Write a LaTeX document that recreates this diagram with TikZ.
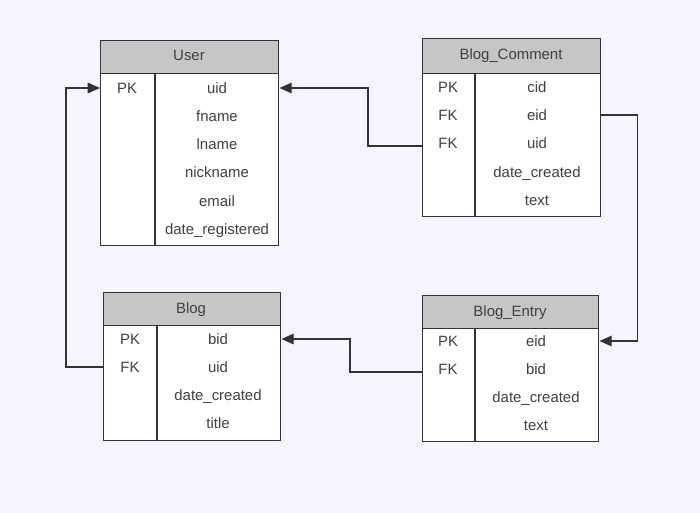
\documentclass[tikz,border=0pt]{standalone}
\usepackage{fontspec}
\setmainfont{Liberation Sans}
\usetikzlibrary{arrows.meta}
\tikzstyle{hdr} = [rectangle, draw=black!80, thick, fill=gray!45, inner sep=0]
\tikzstyle{body} = [rectangle, draw=black!80, thick, fill=white, inner sep=0]
\tikzstyle{cell} = [inner sep=0, text=black!75, text height=1.55ex, text depth=0.45ex, font=\fontsize{8.5}{10}\selectfont]
\tikzstyle{link} = [thick, black!80, -{Triangle[length=7pt,width=6pt]}]

% one table: name, x1, x2, divider, header top, header bottom, body bottom
\newcommand{\ertable}[7]{
	\node[hdr, minimum width={(#3-#2)*0.02cm}, minimum height={(#6-#5)*0.02cm}, anchor=north west] (#1-h) at (#2,#5) {};
	\node[body, minimum width={(#3-#2)*0.02cm}, minimum height={(#7-#6)*0.02cm}, anchor=north west] (#1-b) at (#2,#6) {};
	\draw[thick, black!80] (#4,#6)--(#4,#7);
}

\begin{document}
\begin{tikzpicture}[x=0.02cm, y=-0.02cm]
\useasboundingbox (0,0) rectangle (700,513);
\fill[blue!4] (0,0) rectangle (700,513);

\ertable{user}{100}{278}{155}{40}{73}{245}
\ertable{cmt}{422}{600}{475}{38}{73}{216}
\ertable{blog}{103}{280}{157}{292}{325}{440}
\ertable{entry}{422}{598}{475}{295}{328}{441}

\node[cell] (user-t) at (189,55) {User};
\node[cell] (cmt-t) at (511,54) {Blog\_Comment};
\node[cell] (blog-t) at (191,308) {Blog};
\node[cell] (entry-t) at (510,311) {Blog\_Entry};

% User
\node[cell] (user-pk) at (127,88) {PK};
\foreach \n/\txt/\y in {uid/uid/88, fname/fname/116, lname/lname/144, nick/nickname/172, email/email/201, reg/date\_registered/229}
	\node[cell] (user-\n) at (217,\y) {\txt};

% Blog_Comment
\foreach \n/\k/\y in {1/PK/87, 2/FK/115, 3/FK/143}
	\node[cell] (cmt-k\n) at (448,\y) {\k};
\foreach \n/\txt/\y in {cid/cid/87, eid/eid/115, uid/uid/143, date/date\_created/172, text/text/200}
	\node[cell] (cmt-\n) at (537,\y) {\txt};

% Blog
\foreach \n/\k/\y in {1/PK/339, 2/FK/367}
	\node[cell] (blog-k\n) at (130,\y) {\k};
\foreach \n/\txt/\y in {bid/bid/339, uid/uid/367, date/date\_created/395, title/title/423}
	\node[cell] (blog-\n) at (218,\y) {\txt};

% Blog_Entry
\foreach \n/\k/\y in {1/PK/341, 2/FK/369}
	\node[cell] (entry-k\n) at (448,\y) {\k};
\foreach \n/\txt/\y in {eid/eid/341, bid/bid/369, date/date\_created/397, text/text/425}
	\node[cell] (entry-\n) at (536,\y) {\txt};

% relations
\draw[link] (cmt-b.west |- 0,146) -- ++(-54,0) |- (user-b.east |- user-uid);
\draw[link] (cmt-b.east |- cmt-eid) -- ++(36,0) |- (entry-b.east |- entry-eid);
\draw[link] (entry-b.west |- 0,372) -- ++(-72,0) |- (blog-b.east |- blog-bid);
\draw[link] (blog-b.west |- blog-uid) -- ++(-37,0) |- (user-b.west |- user-uid);
\end{tikzpicture}
\end{document}
